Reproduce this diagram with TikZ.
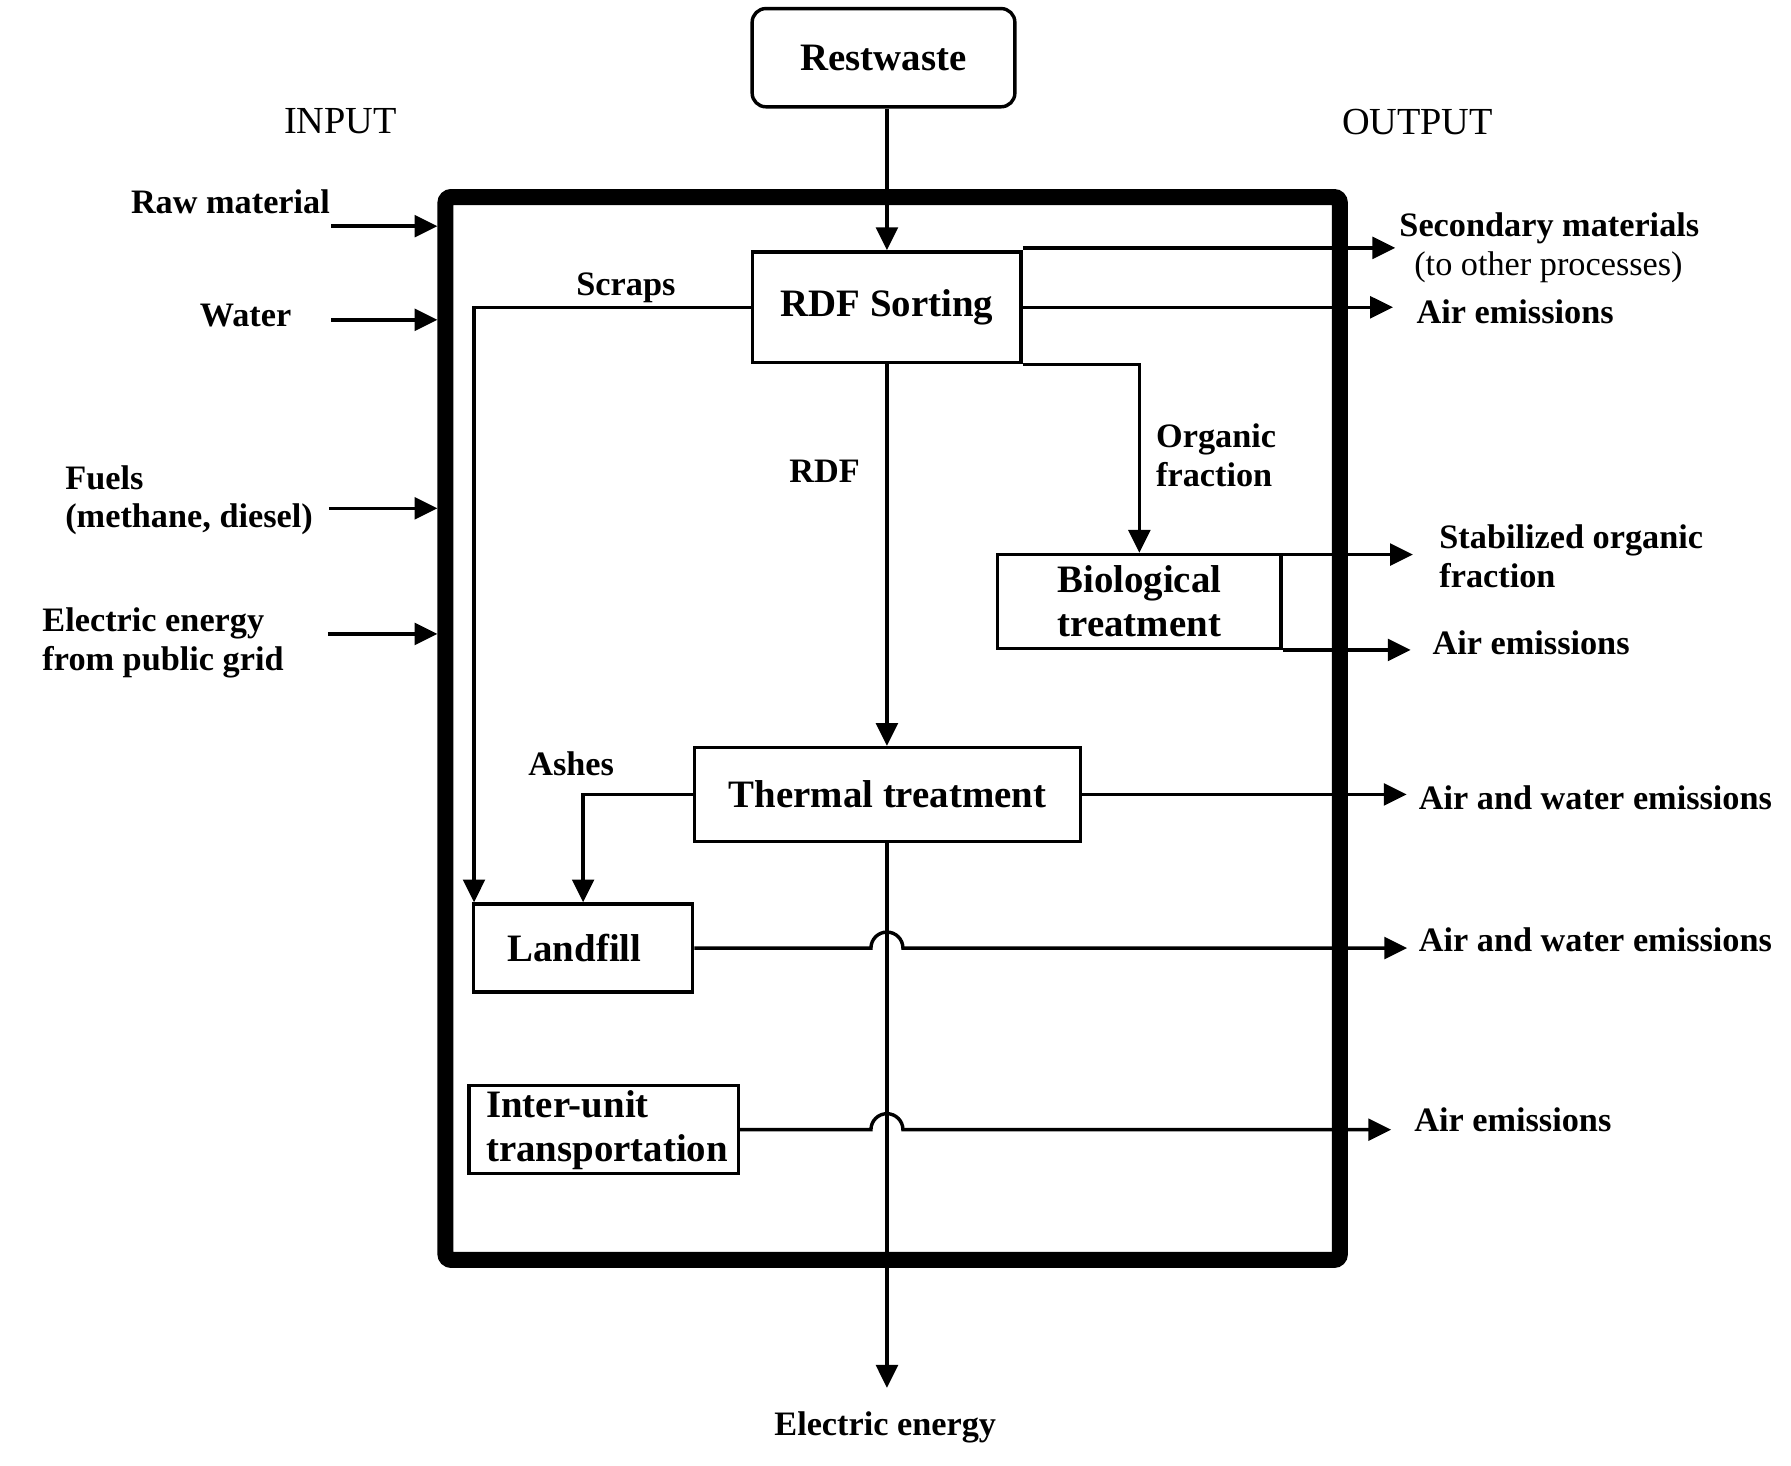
\documentclass[tikz,border=0pt]{standalone}
\usepackage{fontspec}
\setmainfont{Liberation Serif}
\usetikzlibrary{arrows.meta}
\begin{document}
\begin{tikzpicture}[x=1pt,y=-1pt,
  box/.style={draw, line width=3pt, inner sep=0pt, align=center,
    font=\fontsize{34}{38.5}\selectfont\bfseries},
  lbl/.style={inner sep=0pt, align=left, font=\fontsize{30}{34}\selectfont\bfseries},
  plain/.style={inner sep=0pt, font=\fontsize{30}{34}\selectfont},
  head/.style={inner sep=0pt, font=\fontsize{33.5}{38}\selectfont},
  ln/.style={line width=3pt},
  arr/.style={line width=3pt, -{Triangle[length=20pt,width=19pt]}}]
\useasboundingbox (0,0) rectangle (1568,1282.6);

% system boundary
\node[draw, line width=14pt, rounded corners=5pt, minimum width=783pt,
  minimum height=930.5pt, inner sep=0pt] (sys) at (781.5,637.75) {};

% boxes
\node[box, rounded corners=12pt, minimum width=230pt, minimum height=86pt] (rest) at (773.5,50.5) {Restwaste};
\node[box, minimum width=235pt, minimum height=97pt] (rdf) at (776.5,269) {RDF Sorting};
\node[box, minimum width=248pt, minimum height=82pt] (bio) at (997.5,526.5) {Biological\\treatment};
\node[box, minimum width=338pt, minimum height=82pt] (thermal) at (777,695.5) {Thermal treatment};
\node[box, minimum width=192pt, minimum height=77pt] (landfill) at (510.5,830) {Landfill\hspace*{15pt}};
\node[box, align=left, minimum width=236pt, minimum height=77pt] (iu) at (528.5,989) {\hspace*{6pt}Inter-unit\\\hspace*{6pt}transportation};

% headings
\node[head] (input) at (298,106) {INPUT};
\node[head] (output) at (1241,107) {OUTPUT};

% input labels
\node[lbl, anchor=east] (raw) at (289,177) {Raw material};
\node[lbl] (water) at (215,276) {Water};
\node[lbl, anchor=west] (fuels) at (57,438) {Fuels\\(methane, diesel)};
\node[lbl, anchor=west] (grid) at (37,563) {Electric energy\\from public grid};

% input arrows
\coordinate (i1) at (290,198);
\coordinate (i2) at (290,280);
\coordinate (i3) at (288,445);
\coordinate (i4) at (287,555);
\draw[arr] (i1) -- (i1 -| sys.west);
\draw[arr] (i2) -- (i2 -| sys.west);
\draw[arr] (i3) -- (i3 -| sys.west);
\draw[arr] (i4) -- (i4 -| sys.west);

% output labels
\node[lbl, anchor=west] (sec) at (1225,200) {Secondary materials};
\node[plain, anchor=west] (secb) at (1238,234) {(to other processes)};
\node[lbl, anchor=west] (air1) at (1240,273) {Air emissions};
\node[lbl, anchor=west] (stab) at (1260,487) {Stabilized organic\\fraction};
\node[lbl, anchor=west] (air2) at (1254,563) {Air emissions};
\node[lbl, anchor=west] (aw1) at (1242,698) {Air and water emissions};
\node[lbl, anchor=west] (aw2) at (1242,823) {Air and water emissions};
\node[lbl, anchor=west] (air3) at (1238,980) {Air emissions};

% inner labels
\node[lbl] (scraps) at (548,252) {Scraps};
\node[lbl] (rdflbl) at (722,413) {RDF};
\node[lbl, anchor=west] (org) at (1012,398.5) {Organic\\fraction};
\node[lbl] (ashes) at (500,669) {Ashes};
\node[lbl] (elec) at (775,1250) {Electric energy};

% main flow
\draw[arr] (rest.south -| rdf.north) -- (rdf.north);
\draw[arr] (rdf.south) -- (rdf.south |- thermal.north);
\coordinate (eend) at (776.5,1215);
\draw[arr] (thermal.south -| rdf.south) -- (eend);

% sorting outputs
\draw[arr] (rdf.west) -| ([xshift=2pt]landfill.north west);
\draw[arr] (rdf.north east) ++(0,-2) -- ++(326,0);
\draw[arr] (rdf.east) -- ++(324,0);
\draw[arr] (rdf.south east) -| (bio.north);

% biological outputs
\draw[arr] (bio.north east) ++(0,1.5) -- ++(114,0);
\draw[arr] (bio.south east) -- ++(112,0);

% thermal outputs
\draw[arr] (thermal.west) -| (landfill.north);
\draw[arr] (thermal.east) -- ++(284,0);

% landfill and transport outputs with hop-overs over the main line
\draw[arr] (landfill.east) -- (762.5,830) arc[start angle=180,end angle=360,radius=14] -- (1232,830);
\draw[arr] (iu.east) -- (762.5,989) arc[start angle=180,end angle=360,radius=14] -- (1218,989);
\end{tikzpicture}
\end{document}
